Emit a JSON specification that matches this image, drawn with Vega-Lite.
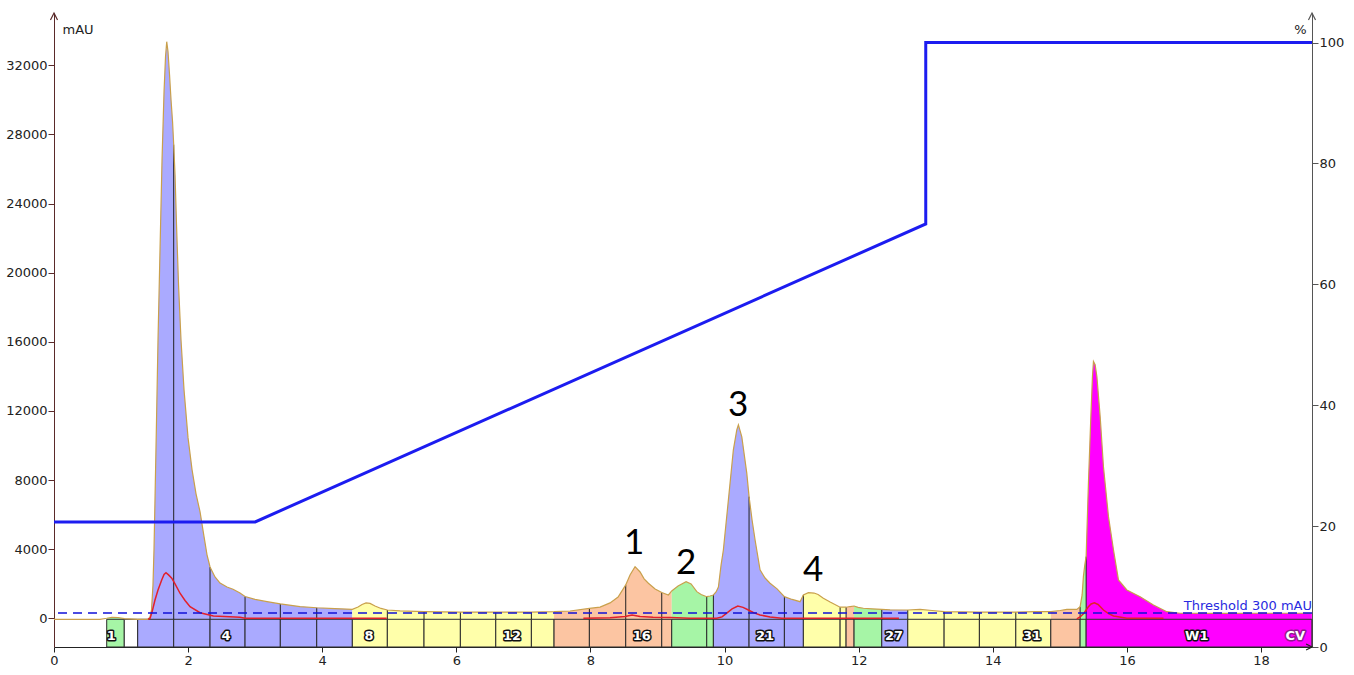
{
  "$schema": "https://vega.github.io/schema/vega-lite/v6.json",
  "description": "Chromatogram with fractions, UV trace, second trace and gradient.",
  "width": 1258,
  "height": 634,
  "autosize": "none",
  "padding": {"left": 54, "top": 13, "right": 42, "bottom": 28},
  "config": {"view": {"stroke": null}, "axis": {"grid": false}},
  "datasets": {
    "curve": [
      {"t": 0, "au": -58, "seg": 0, "zone": "none"},
      {"t": 0.686, "au": -58, "seg": 0, "zone": "none"},
      {"t": 0.786, "au": 0, "seg": 0, "zone": "none"},
      {"t": 0.786, "au": 0, "seg": 1, "zone": "green"},
      {"t": 0.865, "au": 58, "seg": 1, "zone": "green"},
      {"t": 0.954, "au": 46, "seg": 1, "zone": "green"},
      {"t": 1.048, "au": -17, "seg": 1, "zone": "green"},
      {"t": 1.048, "au": -17, "seg": 2, "zone": "none"},
      {"t": 1.248, "au": -58, "seg": 2, "zone": "none"},
      {"t": 1.248, "au": -58, "seg": 3, "zone": "blue"},
      {"t": 1.402, "au": -58, "seg": 3, "zone": "blue"},
      {"t": 1.432, "au": 75, "seg": 3, "zone": "blue"},
      {"t": 1.454, "au": 480, "seg": 3, "zone": "blue"},
      {"t": 1.476, "au": 1930, "seg": 3, "zone": "blue"},
      {"t": 1.491, "au": 3950, "seg": 3, "zone": "blue"},
      {"t": 1.506, "au": 6850, "seg": 3, "zone": "blue"},
      {"t": 1.529, "au": 11480, "seg": 3, "zone": "blue"},
      {"t": 1.551, "au": 16110, "seg": 3, "zone": "blue"},
      {"t": 1.581, "au": 21330, "seg": 3, "zone": "blue"},
      {"t": 1.611, "au": 26540, "seg": 3, "zone": "blue"},
      {"t": 1.641, "au": 30480, "seg": 3, "zone": "blue"},
      {"t": 1.663, "au": 32500, "seg": 3, "zone": "blue"},
      {"t": 1.681, "au": 33370, "seg": 3, "zone": "blue"},
      {"t": 1.7, "au": 32800, "seg": 3, "zone": "blue"},
      {"t": 1.723, "au": 31460, "seg": 3, "zone": "blue"},
      {"t": 1.745, "au": 30010, "seg": 3, "zone": "blue"},
      {"t": 1.768, "au": 28740, "seg": 3, "zone": "blue"},
      {"t": 1.785, "au": 27410, "seg": 3, "zone": "blue"},
      {"t": 1.805, "au": 25670, "seg": 3, "zone": "blue"},
      {"t": 1.827, "au": 22770, "seg": 3, "zone": "blue"},
      {"t": 1.857, "au": 19300, "seg": 3, "zone": "blue"},
      {"t": 1.894, "au": 16110, "seg": 3, "zone": "blue"},
      {"t": 1.939, "au": 13220, "seg": 3, "zone": "blue"},
      {"t": 1.999, "au": 10440, "seg": 3, "zone": "blue"},
      {"t": 2.059, "au": 8590, "seg": 3, "zone": "blue"},
      {"t": 2.118, "au": 7200, "seg": 3, "zone": "blue"},
      {"t": 2.178, "au": 6160, "seg": 3, "zone": "blue"},
      {"t": 2.238, "au": 4710, "seg": 3, "zone": "blue"},
      {"t": 2.282, "au": 3670, "seg": 3, "zone": "blue"},
      {"t": 2.327, "au": 2970, "seg": 3, "zone": "blue"},
      {"t": 2.401, "au": 2390, "seg": 3, "zone": "blue"},
      {"t": 2.476, "au": 2040, "seg": 3, "zone": "blue"},
      {"t": 2.58, "au": 1810, "seg": 3, "zone": "blue"},
      {"t": 2.67, "au": 1680, "seg": 3, "zone": "blue"},
      {"t": 2.774, "au": 1460, "seg": 3, "zone": "blue"},
      {"t": 2.849, "au": 1260, "seg": 3, "zone": "blue"},
      {"t": 2.998, "au": 1090, "seg": 3, "zone": "blue"},
      {"t": 3.177, "au": 960, "seg": 3, "zone": "blue"},
      {"t": 3.375, "au": 830, "seg": 3, "zone": "blue"},
      {"t": 3.669, "au": 680, "seg": 3, "zone": "blue"},
      {"t": 3.918, "au": 610, "seg": 3, "zone": "blue"},
      {"t": 4.191, "au": 560, "seg": 3, "zone": "blue"},
      {"t": 4.449, "au": 520, "seg": 3, "zone": "blue"},
      {"t": 4.449, "au": 520, "seg": 4, "zone": "yellow"},
      {"t": 4.534, "au": 650, "seg": 4, "zone": "yellow"},
      {"t": 4.594, "au": 800, "seg": 4, "zone": "yellow"},
      {"t": 4.653, "au": 890, "seg": 4, "zone": "yellow"},
      {"t": 4.713, "au": 860, "seg": 4, "zone": "yellow"},
      {"t": 4.787, "au": 710, "seg": 4, "zone": "yellow"},
      {"t": 4.877, "au": 570, "seg": 4, "zone": "yellow"},
      {"t": 4.971, "au": 480, "seg": 4, "zone": "yellow"},
      {"t": 5.16, "au": 430, "seg": 4, "zone": "yellow"},
      {"t": 5.518, "au": 390, "seg": 4, "zone": "yellow"},
      {"t": 6.06, "au": 360, "seg": 4, "zone": "yellow"},
      {"t": 6.588, "au": 360, "seg": 4, "zone": "yellow"},
      {"t": 7.119, "au": 360, "seg": 4, "zone": "yellow"},
      {"t": 7.457, "au": 380, "seg": 4, "zone": "yellow"},
      {"t": 7.457, "au": 380, "seg": 5, "zone": "orange"},
      {"t": 7.696, "au": 420, "seg": 5, "zone": "orange"},
      {"t": 7.984, "au": 570, "seg": 5, "zone": "orange"},
      {"t": 8.143, "au": 650, "seg": 5, "zone": "orange"},
      {"t": 8.292, "au": 890, "seg": 5, "zone": "orange"},
      {"t": 8.412, "au": 1230, "seg": 5, "zone": "orange"},
      {"t": 8.526, "au": 1930, "seg": 5, "zone": "orange"},
      {"t": 8.59, "au": 2510, "seg": 5, "zone": "orange"},
      {"t": 8.665, "au": 2990, "seg": 5, "zone": "orange"},
      {"t": 8.74, "au": 2680, "seg": 5, "zone": "orange"},
      {"t": 8.8, "au": 2280, "seg": 5, "zone": "orange"},
      {"t": 8.864, "au": 2030, "seg": 5, "zone": "orange"},
      {"t": 8.964, "au": 1700, "seg": 5, "zone": "orange"},
      {"t": 9.063, "au": 1490, "seg": 5, "zone": "orange"},
      {"t": 9.162, "au": 1350, "seg": 5, "zone": "orange"},
      {"t": 9.212, "au": 1580, "seg": 5, "zone": "orange"},
      {"t": 9.212, "au": 1580, "seg": 6, "zone": "green"},
      {"t": 9.306, "au": 1870, "seg": 6, "zone": "green"},
      {"t": 9.426, "au": 2120, "seg": 6, "zone": "green"},
      {"t": 9.501, "au": 1990, "seg": 6, "zone": "green"},
      {"t": 9.586, "au": 1540, "seg": 6, "zone": "green"},
      {"t": 9.65, "au": 1380, "seg": 6, "zone": "green"},
      {"t": 9.734, "au": 1250, "seg": 6, "zone": "green"},
      {"t": 9.784, "au": 1290, "seg": 6, "zone": "green"},
      {"t": 9.833, "au": 1350, "seg": 6, "zone": "green"},
      {"t": 9.833, "au": 1350, "seg": 7, "zone": "blue"},
      {"t": 9.873, "au": 1520, "seg": 7, "zone": "blue"},
      {"t": 9.908, "au": 1810, "seg": 7, "zone": "blue"},
      {"t": 9.948, "au": 3090, "seg": 7, "zone": "blue"},
      {"t": 9.982, "au": 3950, "seg": 7, "zone": "blue"},
      {"t": 10.057, "au": 6850, "seg": 7, "zone": "blue"},
      {"t": 10.131, "au": 9750, "seg": 7, "zone": "blue"},
      {"t": 10.182, "au": 10900, "seg": 7, "zone": "blue"},
      {"t": 10.206, "au": 11190, "seg": 7, "zone": "blue"},
      {"t": 10.257, "au": 10500, "seg": 7, "zone": "blue"},
      {"t": 10.331, "au": 8400, "seg": 7, "zone": "blue"},
      {"t": 10.365, "au": 7040, "seg": 7, "zone": "blue"},
      {"t": 10.41, "au": 5690, "seg": 7, "zone": "blue"},
      {"t": 10.455, "au": 4530, "seg": 7, "zone": "blue"},
      {"t": 10.529, "au": 2800, "seg": 7, "zone": "blue"},
      {"t": 10.604, "au": 2330, "seg": 7, "zone": "blue"},
      {"t": 10.678, "au": 2030, "seg": 7, "zone": "blue"},
      {"t": 10.783, "au": 1700, "seg": 7, "zone": "blue"},
      {"t": 10.892, "au": 1250, "seg": 7, "zone": "blue"},
      {"t": 11.007, "au": 1090, "seg": 7, "zone": "blue"},
      {"t": 11.126, "au": 960, "seg": 7, "zone": "blue"},
      {"t": 11.175, "au": 1350, "seg": 7, "zone": "blue"},
      {"t": 11.175, "au": 1350, "seg": 8, "zone": "yellow"},
      {"t": 11.25, "au": 1480, "seg": 8, "zone": "yellow"},
      {"t": 11.335, "au": 1460, "seg": 8, "zone": "yellow"},
      {"t": 11.394, "au": 1380, "seg": 8, "zone": "yellow"},
      {"t": 11.473, "au": 1160, "seg": 8, "zone": "yellow"},
      {"t": 11.574, "au": 940, "seg": 8, "zone": "yellow"},
      {"t": 11.723, "au": 640, "seg": 8, "zone": "yellow"},
      {"t": 11.812, "au": 640, "seg": 8, "zone": "yellow"},
      {"t": 11.812, "au": 640, "seg": 9, "zone": "orange"},
      {"t": 11.872, "au": 680, "seg": 9, "zone": "orange"},
      {"t": 11.931, "au": 710, "seg": 9, "zone": "orange"},
      {"t": 11.931, "au": 710, "seg": 10, "zone": "green"},
      {"t": 11.991, "au": 630, "seg": 10, "zone": "green"},
      {"t": 12.07, "au": 580, "seg": 10, "zone": "green"},
      {"t": 12.2, "au": 550, "seg": 10, "zone": "green"},
      {"t": 12.344, "au": 520, "seg": 10, "zone": "green"},
      {"t": 12.344, "au": 520, "seg": 11, "zone": "blue"},
      {"t": 12.468, "au": 490, "seg": 11, "zone": "blue"},
      {"t": 12.732, "au": 480, "seg": 11, "zone": "blue"},
      {"t": 12.732, "au": 480, "seg": 12, "zone": "yellow"},
      {"t": 12.915, "au": 520, "seg": 12, "zone": "yellow"},
      {"t": 13.094, "au": 450, "seg": 12, "zone": "yellow"},
      {"t": 13.274, "au": 380, "seg": 12, "zone": "yellow"},
      {"t": 13.8, "au": 360, "seg": 12, "zone": "yellow"},
      {"t": 14.343, "au": 360, "seg": 12, "zone": "yellow"},
      {"t": 14.631, "au": 380, "seg": 12, "zone": "yellow"},
      {"t": 14.865, "au": 380, "seg": 12, "zone": "yellow"},
      {"t": 14.865, "au": 380, "seg": 13, "zone": "orange"},
      {"t": 15.004, "au": 450, "seg": 13, "zone": "orange"},
      {"t": 15.104, "au": 520, "seg": 13, "zone": "orange"},
      {"t": 15.183, "au": 510, "seg": 13, "zone": "orange"},
      {"t": 15.253, "au": 510, "seg": 13, "zone": "orange"},
      {"t": 15.302, "au": 670, "seg": 13, "zone": "orange"},
      {"t": 15.302, "au": 670, "seg": 14, "zone": "green"},
      {"t": 15.332, "au": 1350, "seg": 14, "zone": "green"},
      {"t": 15.351, "au": 2410, "seg": 14, "zone": "green"},
      {"t": 15.372, "au": 3090, "seg": 14, "zone": "green"},
      {"t": 15.392, "au": 3570, "seg": 14, "zone": "green"},
      {"t": 15.392, "au": 3570, "seg": 15, "zone": "magenta"},
      {"t": 15.426, "au": 7820, "seg": 15, "zone": "magenta"},
      {"t": 15.462, "au": 11670, "seg": 15, "zone": "magenta"},
      {"t": 15.486, "au": 13990, "seg": 15, "zone": "magenta"},
      {"t": 15.501, "au": 14860, "seg": 15, "zone": "magenta"},
      {"t": 15.526, "au": 14670, "seg": 15, "zone": "magenta"},
      {"t": 15.552, "au": 13990, "seg": 15, "zone": "magenta"},
      {"t": 15.601, "au": 11670, "seg": 15, "zone": "magenta"},
      {"t": 15.65, "au": 8770, "seg": 15, "zone": "magenta"},
      {"t": 15.725, "au": 5880, "seg": 15, "zone": "magenta"},
      {"t": 15.8, "au": 3950, "seg": 15, "zone": "magenta"},
      {"t": 15.874, "au": 2220, "seg": 15, "zone": "magenta"},
      {"t": 15.999, "au": 1640, "seg": 15, "zone": "magenta"},
      {"t": 16.197, "au": 1250, "seg": 15, "zone": "magenta"},
      {"t": 16.396, "au": 770, "seg": 15, "zone": "magenta"},
      {"t": 16.595, "au": 380, "seg": 15, "zone": "magenta"},
      {"t": 16.794, "au": 290, "seg": 15, "zone": "magenta"},
      {"t": 17.39, "au": 280, "seg": 15, "zone": "magenta"},
      {"t": 17.987, "au": 290, "seg": 15, "zone": "magenta"},
      {"t": 18.758, "au": 290, "seg": 15, "zone": "magenta"}
    ],
    "uv2": [
      {"t": 1.402, "au": -58, "part": 1},
      {"t": 1.432, "au": -10, "part": 1},
      {"t": 1.462, "au": 360, "part": 1},
      {"t": 1.506, "au": 1060, "part": 1},
      {"t": 1.551, "au": 1640, "part": 1},
      {"t": 1.606, "au": 2220, "part": 1},
      {"t": 1.641, "au": 2540, "part": 1},
      {"t": 1.67, "au": 2640, "part": 1},
      {"t": 1.708, "au": 2510, "part": 1},
      {"t": 1.756, "au": 2320, "part": 1},
      {"t": 1.805, "au": 1990, "part": 1},
      {"t": 1.879, "au": 1450, "part": 1},
      {"t": 1.954, "au": 1030, "part": 1},
      {"t": 2.029, "au": 670, "part": 1},
      {"t": 2.178, "au": 320, "part": 1},
      {"t": 2.377, "au": 130, "part": 1},
      {"t": 2.774, "au": 60, "part": 1},
      {"t": 2.849, "au": 0, "part": 1},
      {"t": 4.962, "au": 0, "part": 1},
      {"t": 7.894, "au": 0, "part": 2},
      {"t": 8.292, "au": 30, "part": 2},
      {"t": 8.516, "au": 100, "part": 2},
      {"t": 8.62, "au": 190, "part": 2},
      {"t": 8.74, "au": 100, "part": 2},
      {"t": 8.934, "au": 60, "part": 2},
      {"t": 9.188, "au": 50, "part": 2},
      {"t": 9.485, "au": 0, "part": 2},
      {"t": 9.883, "au": 0, "part": 2},
      {"t": 9.962, "au": 80, "part": 2},
      {"t": 10.037, "au": 310, "part": 2},
      {"t": 10.112, "au": 540, "part": 2},
      {"t": 10.197, "au": 710, "part": 2},
      {"t": 10.276, "au": 630, "part": 2},
      {"t": 10.355, "au": 480, "part": 2},
      {"t": 10.44, "au": 310, "part": 2},
      {"t": 10.529, "au": 190, "part": 2},
      {"t": 10.678, "au": 80, "part": 2},
      {"t": 10.853, "au": 0, "part": 2},
      {"t": 12.6, "au": 0, "part": 2},
      {"t": 15.253, "au": -40, "part": 3},
      {"t": 15.302, "au": 75, "part": 3},
      {"t": 15.362, "au": 310, "part": 3},
      {"t": 15.422, "au": 650, "part": 3},
      {"t": 15.466, "au": 830, "part": 3},
      {"t": 15.515, "au": 900, "part": 3},
      {"t": 15.57, "au": 800, "part": 3},
      {"t": 15.65, "au": 480, "part": 3},
      {"t": 15.72, "au": 280, "part": 3},
      {"t": 15.8, "au": 130, "part": 3},
      {"t": 15.999, "au": 0, "part": 3},
      {"t": 16.545, "au": 0, "part": 3}
    ],
    "fractions": [
      {"from": 0.786, "to": 1.048, "zone": "green"},
      {"from": 1.048, "to": 1.248, "zone": "none"},
      {"from": 1.248, "to": 1.785, "zone": "blue"},
      {"from": 1.785, "to": 2.327, "zone": "blue"},
      {"from": 2.327, "to": 2.849, "zone": "blue"},
      {"from": 2.849, "to": 3.375, "zone": "blue"},
      {"from": 3.375, "to": 3.918, "zone": "blue"},
      {"from": 3.918, "to": 4.449, "zone": "blue"},
      {"from": 4.449, "to": 4.971, "zone": "yellow"},
      {"from": 4.971, "to": 5.518, "zone": "yellow"},
      {"from": 5.518, "to": 6.06, "zone": "yellow"},
      {"from": 6.06, "to": 6.588, "zone": "yellow"},
      {"from": 6.588, "to": 7.119, "zone": "yellow"},
      {"from": 7.119, "to": 7.457, "zone": "yellow"},
      {"from": 7.457, "to": 7.984, "zone": "orange"},
      {"from": 7.984, "to": 8.526, "zone": "orange"},
      {"from": 8.526, "to": 9.063, "zone": "orange"},
      {"from": 9.063, "to": 9.212, "zone": "orange"},
      {"from": 9.212, "to": 9.734, "zone": "green"},
      {"from": 9.734, "to": 9.833, "zone": "green"},
      {"from": 9.833, "to": 10.365, "zone": "blue"},
      {"from": 10.365, "to": 10.892, "zone": "blue"},
      {"from": 10.892, "to": 11.175, "zone": "blue"},
      {"from": 11.175, "to": 11.723, "zone": "yellow"},
      {"from": 11.723, "to": 11.812, "zone": "yellow"},
      {"from": 11.812, "to": 11.931, "zone": "orange"},
      {"from": 11.931, "to": 12.344, "zone": "green"},
      {"from": 12.344, "to": 12.732, "zone": "blue"},
      {"from": 12.732, "to": 13.274, "zone": "yellow"},
      {"from": 13.274, "to": 13.8, "zone": "yellow"},
      {"from": 13.8, "to": 14.343, "zone": "yellow"},
      {"from": 14.343, "to": 14.865, "zone": "yellow"},
      {"from": 14.865, "to": 15.302, "zone": "orange"},
      {"from": 15.302, "to": 15.392, "zone": "green"},
      {"from": 15.392, "to": 18.758, "zone": "magenta"}
    ],
    "cuts": [
      {"t": 1.785, "top": 27410},
      {"t": 2.327, "top": 2970},
      {"t": 2.849, "top": 1260},
      {"t": 3.375, "top": 830},
      {"t": 3.918, "top": 610},
      {"t": 4.971, "top": 480},
      {"t": 5.518, "top": 390},
      {"t": 6.06, "top": 360},
      {"t": 6.588, "top": 360},
      {"t": 7.119, "top": 360},
      {"t": 7.984, "top": 570},
      {"t": 8.526, "top": 1930},
      {"t": 9.063, "top": 1490},
      {"t": 9.734, "top": 1250},
      {"t": 9.833, "top": 1350},
      {"t": 10.365, "top": 7040},
      {"t": 10.892, "top": 1250},
      {"t": 11.175, "top": 1350},
      {"t": 11.723, "top": 640},
      {"t": 11.812, "top": 640},
      {"t": 12.344, "top": 520},
      {"t": 12.732, "top": 480},
      {"t": 13.274, "top": 380},
      {"t": 13.8, "top": 360},
      {"t": 14.343, "top": 360},
      {"t": 15.302, "top": 670},
      {"t": 15.392, "top": 3570}
    ],
    "flabels": [
      {"t": 0.854, "label": "1"},
      {"t": 2.565, "label": "4"},
      {"t": 4.698, "label": "8"},
      {"t": 6.831, "label": "12"},
      {"t": 8.765, "label": "16"},
      {"t": 10.604, "label": "21"},
      {"t": 12.528, "label": "27"},
      {"t": 14.586, "label": "31"},
      {"t": 17.042, "label": "W1"},
      {"t": 18.51, "label": "CV"}
    ],
    "peaks": [
      {"t": 8.65, "au": 4360, "label": "1"},
      {"t": 9.426, "au": 3200, "label": "2"},
      {"t": 10.201, "au": 12350, "label": "3"},
      {"t": 11.32, "au": 2800, "label": "4"}
    ],
    "gradient": [
      {"step": 0, "t": 0, "pct": 20.7},
      {"step": 1, "t": 3.0, "pct": 20.7},
      {"step": 2, "t": 13.0, "pct": 70},
      {"step": 3, "t": 13.0, "pct": 100},
      {"step": 4, "t": 18.76, "pct": 100}
    ]
  },
  "layer": [
    {
      "layer": [
        {
          "data": {"name": "curve"},
          "transform": [{"filter": "datum.zone !== 'none'"}],
          "mark": {"type": "area", "opacity": 1},
          "encoding": {
            "x": {
              "field": "t", "type": "quantitative",
              "scale": {"domain": [0, 18.76], "nice": false, "zero": false},
              "axis": {
                "title": null,
                "values": [0, 2, 4, 6, 8, 10, 12, 14, 16, 18],
                "format": "d",
                "labelFont": "DejaVu Sans", "labelFontSize": 13, "labelColor": "#222",
                "tickSize": 5, "labelPadding": 2, "labelFlush": false,
                "domainColor": "#222", "tickColor": "#222"
              }
            },
            "y": {
              "field": "au", "type": "quantitative", "stack": null,
              "scale": {"domain": [-1662, 35030], "nice": false, "zero": false},
              "axis": {
                "title": "mAU", "titleAngle": 0, "titleAlign": "left", "titleBaseline": "middle",
                "titleX": 8, "titleY": 16, "titleFont": "DejaVu Sans", "titleFontSize": 13,
                "titleFontWeight": "normal", "titleColor": "#222",
                "values": [0, 4000, 8000, 12000, 16000, 20000, 24000, 28000, 32000],
                "format": "d",
                "labelFont": "DejaVu Sans", "labelFontSize": 13, "labelColor": "#222",
                "tickSize": 6, "labelPadding": 1,
                "domainColor": "#5a2a2a", "tickColor": "#5a2a2a"
              }
            },
            "y2": {"datum": -58},
            "detail": {"field": "seg"},
            "color": {
              "field": "zone", "type": "nominal", "legend": null,
              "scale": {
                "domain": ["none", "green", "blue", "yellow", "orange", "magenta"],
                "range": ["#ffffff", "#a6f5a6", "#aaaaff", "#ffffaa", "#fcc5a2", "#ff00ff"]
              }
            }
          }
        },
        {
          "data": {"name": "fractions"},
          "mark": {"type": "rect", "stroke": "#2b2b2b", "strokeWidth": 1},
          "encoding": {
            "x": {"field": "from", "type": "quantitative"},
            "x2": {"field": "to"},
            "y": {"datum": -58},
            "y2": {"datum": -1662},
            "fill": {
              "field": "zone", "type": "nominal", "legend": null,
              "scale": {
                "domain": ["none", "green", "blue", "yellow", "orange", "magenta"],
                "range": ["#ffffff", "#a6f5a6", "#aaaaff", "#ffffaa", "#fcc5a2", "#ff00ff"]
              }
            }
          }
        },
        {
          "data": {"name": "cuts"},
          "mark": {"type": "rule", "color": "#222", "strokeWidth": 1},
          "encoding": {
            "x": {"field": "t", "type": "quantitative"},
            "y": {"field": "top", "type": "quantitative"},
            "y2": {"datum": -58}
          }
        },
        {
          "data": {"name": "curve"},
          "mark": {"type": "line", "color": "#c9a04c", "strokeWidth": 1.2},
          "encoding": {
            "x": {"field": "t", "type": "quantitative"},
            "y": {"field": "au", "type": "quantitative"}
          }
        },
        {
          "data": {"name": "uv2"},
          "mark": {"type": "line", "color": "#e3202a", "strokeWidth": 1.5},
          "encoding": {
            "x": {"field": "t", "type": "quantitative"},
            "y": {"field": "au", "type": "quantitative"},
            "detail": {"field": "part"}
          }
        },
        {
          "data": {"values": [{"level": 300}]},
          "mark": {"type": "rule", "color": "#1010d8", "strokeWidth": 1.5, "strokeDash": [9, 6]},
          "encoding": {
            "y": {"field": "level", "type": "quantitative"}
          }
        },
        {
          "data": {"values": [{"t": 18.76, "level": 300, "label": "Threshold 300 mAU"}]},
          "mark": {"type": "text", "align": "right", "baseline": "bottom", "dy": 0, "font": "DejaVu Sans", "fontSize": 13, "color": "#2a2ae0"},
          "encoding": {
            "x": {"field": "t", "type": "quantitative"},
            "y": {"field": "level", "type": "quantitative"},
            "text": {"field": "label"}
          }
        },
        {
          "data": {"name": "flabels"},
          "mark": {"type": "text", "font": "DejaVu Sans", "fontSize": 13, "fontWeight": "bold", "baseline": "middle", "strokeWidth": 3, "strokeJoin": "round"},
          "encoding": {
            "x": {"field": "t", "type": "quantitative"},
            "y": {"datum": -1025},
            "text": {"field": "label"},
            "stroke": {"condition": {"test": "datum.label === 'CV'", "value": "#8e1a8e"}, "value": "#111"},
            "fill": {"condition": {"test": "datum.label === 'CV'", "value": "#8e1a8e"}, "value": "#111"}
          }
        },
        {
          "data": {"name": "flabels"},
          "mark": {"type": "text", "font": "DejaVu Sans", "fontSize": 13, "fontWeight": "bold", "baseline": "middle", "fill": "#ffffff"},
          "encoding": {
            "x": {"field": "t", "type": "quantitative"},
            "y": {"datum": -1025},
            "text": {"field": "label"}
          }
        },
        {
          "data": {"name": "peaks"},
          "mark": {"type": "text", "font": "Lato", "fontSize": 35, "baseline": "middle", "color": "#000"},
          "encoding": {
            "x": {"field": "t", "type": "quantitative"},
            "y": {"field": "au", "type": "quantitative"},
            "text": {"field": "label"}
          }
        },
        {
          "data": {"values": [{"axis": "mAU"}]},
          "mark": {"type": "point", "shape": "M-0.5,1L0,0L0.5,1", "filled": false, "stroke": "#5a2a2a", "strokeWidth": 1.2, "size": 200, "opacity": 1},
          "encoding": {"x": {"datum": 0}, "y": {"datum": 35030}}
        },
        {
          "data": {"values": [{"axis": "time"}]},
          "mark": {"type": "point", "shape": "M-1,-0.5L0,0L-1,0.5", "filled": false, "stroke": "#222", "strokeWidth": 1.2, "size": 140, "opacity": 1},
          "encoding": {"x": {"datum": 18.76}, "y": {"datum": -1662}}
        }
      ]
    },
    {
      "data": {"name": "gradient"},
      "layer": [
        {
          "mark": {"type": "line", "color": "#1c1cf0", "strokeWidth": 3},
          "encoding": {
            "x": {"field": "t", "type": "quantitative"},
            "y": {
              "field": "pct", "type": "quantitative",
              "scale": {"domain": [0, 104.9], "nice": false, "zero": false},
              "axis": {
                "orient": "right",
                "title": "%", "titleAngle": 0, "titleAlign": "right", "titleBaseline": "middle",
                "titleX": -6, "titleY": 16, "titleFont": "DejaVu Sans", "titleFontSize": 13,
                "titleFontWeight": "normal", "titleColor": "#222",
                "values": [0, 20, 40, 60, 80, 100],
                "labelFont": "DejaVu Sans", "labelFontSize": 13, "labelColor": "#222",
                "tickSize": 6, "labelPadding": 1,
                "domainColor": "#555", "tickColor": "#555"
              }
            },
            "order": {"field": "step"}
          }
        },
        {
          "data": {"values": [{"axis": "pct"}]},
          "mark": {"type": "point", "shape": "M-0.5,1L0,0L0.5,1", "filled": false, "stroke": "#555", "strokeWidth": 1.2, "size": 200, "opacity": 1},
          "encoding": {"x": {"datum": 18.76}, "y": {"datum": 104.9}}
        }
      ]
    }
  ],
  "resolve": {"scale": {"y": "independent"}, "axis": {"y": "independent"}}
}
